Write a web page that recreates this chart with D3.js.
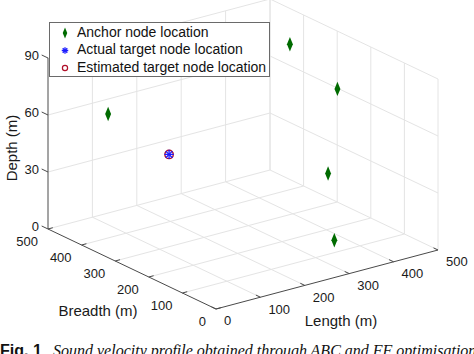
<!DOCTYPE html>
<html>
<head>
<meta charset="utf-8">
<script src="https://cdn.jsdelivr.net/npm/d3@7"></script>
<style>
  body { margin: 0; background: #fff; }
  svg { display: block; font-family: "Liberation Sans", Arial, sans-serif; }
</style>
</head>
<body>
<script>
const WIDTH = 474;
const HEIGHT = 354;

// tick values
var lengthTicks = [0, 100, 200, 300, 400, 500];
var breadthTicks = [0, 100, 200, 300, 400, 500];
var depthTicks = [0, 30, 60, 90];

// anchor nodes (length, breadth, depth)
var anchorLength = [90, 420, 440, 400, 380];
var anchorBreadth = [440, 335, 220, 195, 150];
var anchorDepth = [60, 85, 70, 30, 0];

// target node
var actualLength = [113];
var actualBreadth = [289];
var actualDepth = [50];
var estimatedLength = [113];
var estimatedBreadth = [289];
var estimatedDepth = [50];

var legendLabels = ['Anchor node location', 'Actual target node location', 'Estimated target node location'];

var GRID = '#e4e4e4';
var AXIS = '#4a4a4a';
var GREEN = '#006b00';
var BLUE = '#1a1aff';
var RED = '#b0102a';

// projection of the 3d box onto the page
var lScale = d3.scaleLinear().domain([0, 500]).range([0, 1]);
var bScale = d3.scaleLinear().domain([0, 500]).range([0, 1]);
var zScale = d3.scaleLinear().domain([0, 90]).range([0, 171]);
var origin = [216, 309];
var lVec = [222, -59];
var bVec = [-168, -80];

var proj = function (l, b, z) {
    return [
        origin[0] + lScale(l) * lVec[0] + bScale(b) * bVec[0],
        origin[1] + lScale(l) * lVec[1] + bScale(b) * bVec[1] - zScale(z)
    ];
};

var unit = function (v) {
    var n = Math.hypot(v[0], v[1]);
    return [v[0] / n, v[1] / n];
};

var svg = d3.select('body').append('svg')
    .attr('width', WIDTH)
    .attr('height', HEIGHT);

var seg = function (g, a, b, color) {
    g.append('line')
        .attr('x1', a[0]).attr('y1', a[1])
        .attr('x2', b[0]).attr('y2', b[1])
        .attr('stroke', color)
        .attr('stroke-width', 1);
};

var zMax = depthTicks[depthTicks.length - 1];
var grid = svg.append('g');

// floor
lengthTicks.slice(1).forEach(function (l) { seg(grid, proj(l, 0, 0), proj(l, 500, 0), GRID); });
breadthTicks.slice(1).forEach(function (b) { seg(grid, proj(0, b, 0), proj(500, b, 0), GRID); });
// back wall at breadth 500
lengthTicks.slice(1).forEach(function (l) { seg(grid, proj(l, 500, 0), proj(l, 500, zMax), GRID); });
depthTicks.slice(1).forEach(function (z) { seg(grid, proj(0, 500, z), proj(500, 500, z), GRID); });
// back wall at length 500
breadthTicks.forEach(function (b) { seg(grid, proj(500, b, 0), proj(500, b, zMax), GRID); });
depthTicks.slice(1).forEach(function (z) { seg(grid, proj(500, 0, z), proj(500, 500, z), GRID); });

// axes
var axes = svg.append('g');
seg(axes, proj(0, 0, 0), proj(500, 0, 0), AXIS);
seg(axes, proj(0, 0, 0), proj(0, 500, 0), AXIS);
seg(axes, proj(0, 500, 0), proj(0, 500, zMax), AXIS);

var TICK = 5;
var uL = unit(lVec);
var uB = unit(bVec);

lengthTicks.forEach(function (l) {
    var p = proj(l, 0, 0);
    seg(axes, p, [p[0] + uB[0] * TICK, p[1] + uB[1] * TICK], AXIS);
    axes.append('text')
        .attr('x', p[0] + 8).attr('y', p[1] + 13)
        .attr('dominant-baseline', 'middle')
        .attr('font-size', 13)
        .attr('fill', '#1a1a1a')
        .text(l);
});

breadthTicks.forEach(function (b) {
    var p = proj(0, b, 0);
    seg(axes, p, [p[0] + uL[0] * TICK, p[1] + uL[1] * TICK], AXIS);
    axes.append('text')
        .attr('x', p[0] - 10).attr('y', p[1] + 14)
        .attr('text-anchor', 'end')
        .attr('dominant-baseline', 'middle')
        .attr('font-size', 13)
        .attr('fill', '#1a1a1a')
        .text(b);
});

depthTicks.forEach(function (z) {
    var p = proj(0, 500, z);
    seg(axes, p, [p[0] + uB[0] * TICK * 1.4, p[1] + uB[1] * TICK * 1.4], AXIS);
    axes.append('text')
        .attr('x', p[0] - 9).attr('y', p[1] - 1)
        .attr('text-anchor', 'end')
        .attr('dominant-baseline', 'middle')
        .attr('font-size', 13)
        .attr('fill', '#1a1a1a')
        .text(z);
});

// axis titles
axes.append('text')
    .attr('x', 341).attr('y', 322)
    .attr('text-anchor', 'middle')
    .attr('dominant-baseline', 'middle')
    .attr('font-size', 15)
    .attr('fill', '#1a1a1a')
    .text('Length (m)');
axes.append('text')
    .attr('x', 98).attr('y', 312)
    .attr('text-anchor', 'middle')
    .attr('dominant-baseline', 'middle')
    .attr('font-size', 15)
    .attr('fill', '#1a1a1a')
    .text('Breadth (m)');
axes.append('text')
    .attr('transform', 'translate(13,148) rotate(-90)')
    .attr('text-anchor', 'middle')
    .attr('dominant-baseline', 'middle')
    .attr('font-size', 15)
    .attr('fill', '#1a1a1a')
    .text('Depth (m)');

// markers
var diamond = d3.symbol().type(d3.symbolDiamond).size(42);
var plus = d3.symbol().type(d3.symbolPlus).size(30);
var times = d3.symbol().type(d3.symbolTimes).size(30);

var pts = svg.append('g');

pts.selectAll('.anchor')
    .data(d3.range(anchorLength.length))
    .enter()
    .append('path')
    .attr('class', 'anchor')
    .attr('transform', function (i) {
        var p = proj(anchorLength[i], anchorBreadth[i], anchorDepth[i]);
        return 'translate(' + p[0] + ',' + p[1] + ') scale(0.85,1.2)';
    })
    .attr('d', diamond)
    .attr('fill', GREEN);

var drawStar = function (g, p, s) {
    [plus, times].forEach(function (sym) {
        g.append('path')
            .attr('transform', 'translate(' + p[0] + ',' + p[1] + ') scale(' + s + ')')
            .attr('d', sym)
            .attr('fill', 'none')
            .attr('stroke', BLUE)
            .attr('stroke-width', 1.3 / s);
    });
};

estimatedLength.forEach(function (l, i) {
    var p = proj(l, estimatedBreadth[i], estimatedDepth[i]);
    pts.append('circle')
        .attr('cx', p[0]).attr('cy', p[1]).attr('r', 4.2)
        .attr('fill', 'none')
        .attr('stroke', RED)
        .attr('stroke-width', 1.4);
});
actualLength.forEach(function (l, i) {
    drawStar(pts, proj(l, actualBreadth[i], actualDepth[i]), 1);
});

// legend
var legend = svg.append('g');
legend.append('rect')
    .attr('x', 49.5).attr('y', 22.5)
    .attr('width', 220).attr('height', 54)
    .attr('fill', '#fff')
    .attr('stroke', '#6a6a6a');

var rowY = d3.scalePoint().domain(legendLabels).range([33, 68]);

legend.append('path')
    .attr('transform', 'translate(65,' + rowY(legendLabels[0]) + ') scale(0.65,0.9)')
    .attr('d', diamond)
    .attr('fill', GREEN);
drawStar(legend, [65, rowY(legendLabels[1])], 0.7);
legend.append('circle')
    .attr('cx', 65).attr('cy', rowY(legendLabels[2])).attr('r', 2.6)
    .attr('fill', 'none')
    .attr('stroke', RED)
    .attr('stroke-width', 1.2);

legend.selectAll('.lab')
    .data(legendLabels)
    .enter()
    .append('text')
    .attr('class', 'lab')
    .attr('x', 77)
    .attr('y', function (d) { return rowY(d); })
    .attr('dominant-baseline', 'middle')
    .attr('font-size', 14)
    .attr('fill', '#111')
    .text(function (d) { return d; });

// caption, cut by the bottom of the picture as in the source figure
var cap = svg.append('text')
    .attr('x', 0).attr('y', 356)
    .attr('font-size', 16)
    .attr('fill', '#111');
cap.append('tspan')
    .attr('font-weight', 'bold')
    .text('Fig. 1');
cap.append('tspan')
    .attr('x', 53)
    .attr('font-family', '"Liberation Serif", "Times New Roman", serif')
    .attr('font-style', 'italic')
    .text('Sound velocity profile obtained through ABC and FF optimisation');
</script>
</body>
</html>
